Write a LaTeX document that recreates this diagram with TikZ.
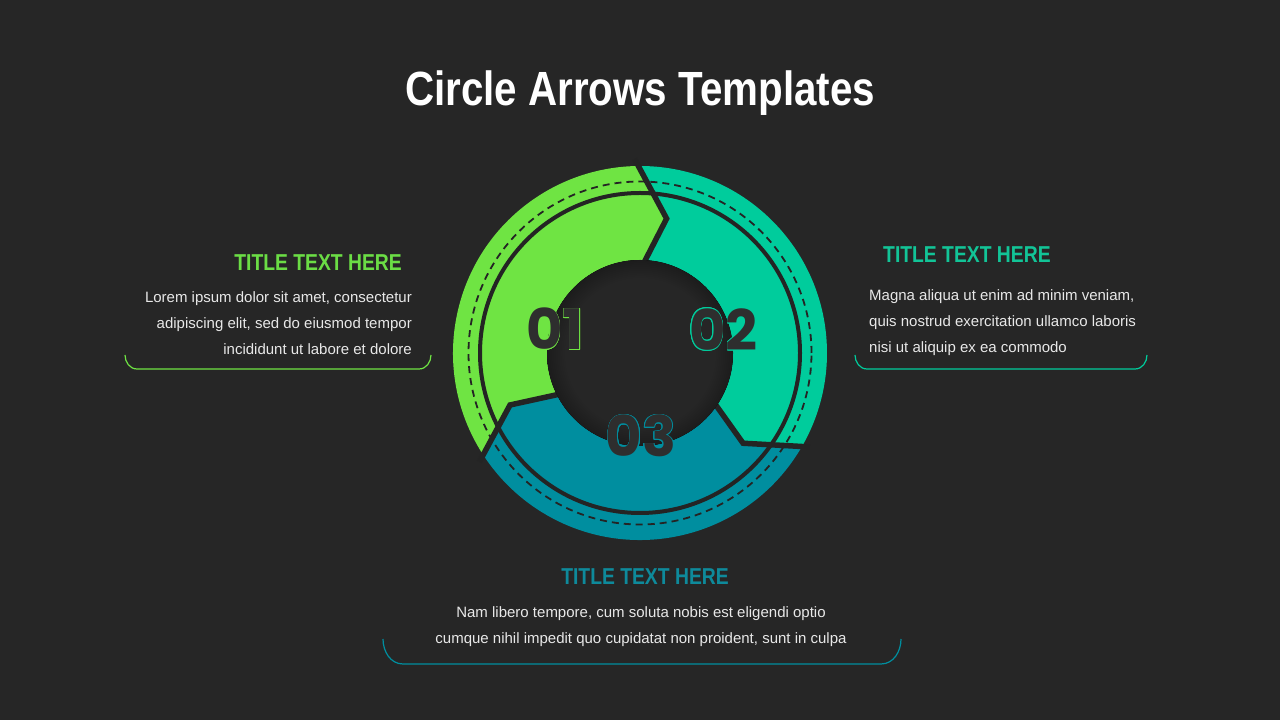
\documentclass[tikz,border=0pt]{standalone}
\usepackage{fontspec}
\setmainfont{Liberation Sans}
\newfontfamily\hfont{Liberation Sans}[FakeStretch=0.84]
\newfontfamily\numfont{Poppins}
\usetikzlibrary{calc}
\definecolor{bg}{HTML}{262626}
\definecolor{gapc}{HTML}{242424}
\definecolor{cgreen}{HTML}{6FE443}
\definecolor{cteal}{HTML}{00CC9C}
\definecolor{cblue}{HTML}{008E9F}
\definecolor{tgreen}{HTML}{6BDD45}
\definecolor{tteal}{HTML}{12C497}
\definecolor{tblue}{HTML}{0E8A9B}
\definecolor{bodyc}{HTML}{E8E8E8}
\definecolor{numdark}{HTML}{2E2E2E}
\definecolor{holec}{HTML}{262626}
\definecolor{holee}{HTML}{1C1C1C}
\pgfdeclareradialshading{holeshade}{\pgfpoint{0bp}{0bp}}{color(0bp)=(holec); color(20bp)=(holec); color(25bp)=(holee); color(50bp)=(holee)}
\newcommand\outnum[4]{%
  \foreach \a in {0,22.5,...,337.5}
    \node[numsty, text=#3, shift={(\a:0.7pt)}] at (#1) {#2};
  \node[numsty, text=numdark] (#4) at (#1) {#2};}
\begin{document}
\begin{tikzpicture}[x=1pt,y=1pt,
  numsty/.style={font=\numfont\bfseries\fontsize{56}{56}\selectfont, inner sep=0pt},
  htitle/.style={font=\hfont\bfseries\fontsize{23}{28}\selectfont, inner sep=0pt},
  bodytxt/.style={font=\fontsize{15}{18}\selectfont, text=bodyc, inner sep=0pt},
  gapline/.style={draw=gapc, line width=5.5pt, line join=miter},
  bracket/.style={line width=1.2pt}]
\fill[bg] (0,0) rectangle (1280,720);
\useasboundingbox (0,0) rectangle (1280,720);

% main title
\node[font=\hfont\bfseries\fontsize{48}{58}\selectfont, text=white, anchor=base, inner sep=0pt] (title) at (640,614) {Circle Arrows Templates};

% circle
\coordinate (C) at (640,367);
\begin{scope}[shift={(640,367)}]
  % green segment: B2 -> B0
  \fill[cgreen] (213:187pt) arc[start angle=213, end angle=90.5, radius=187pt]
     -- (78.8:137pt) -- (88.2:93pt) arc[start angle=88.2, end angle=207.5, radius=93pt]
     -- (201.8:140pt) -- cycle;
  % teal segment: B0 -> B1
  \fill[cteal] (90.5:187pt) arc[start angle=90.5, end angle=-30, radius=187pt]
     -- (-41.2:137pt) -- (-33.5:93pt) arc[start angle=-33.5, end angle=88.2, radius=93pt]
     -- (78.8:137pt) -- cycle;
  % blue segment: B1 -> B2
  \fill[cblue] (-30:187pt) arc[start angle=-30, end angle=-147, radius=187pt]
     -- (-158.2:140pt) -- (-152.5:93pt) arc[start angle=-152.5, end angle=-33.5, radius=93pt]
     -- (-41.2:137pt) -- cycle;
  % rings
  \draw[gapc, line width=4pt] (0,0) circle[radius=160pt];
  \draw[gapc, line width=1.8pt, dash pattern=on 7pt off 5pt] (0,0) circle[radius=171.5pt];
  % gap lines
  \draw[gapline] ($(90.5:187pt)!-8pt!(78.8:137pt)$) -- (78.8:137pt) -- (88.2:88pt);
  \draw[gapline] ($(-30:187pt)!-8pt!(-41.2:137pt)$) -- (-41.2:137pt) -- (-33.5:88pt);
  \draw[gapline] ($(213:187pt)!-8pt!(201.8:140pt)$) -- (201.8:140pt) -- (207.5:88pt);
  % hole
  \fill[shading=holeshade] (0,0) circle[radius=93pt];
\end{scope}

% numbers
\outnum{555,391}{01}{cgreen}{n1}
\outnum{723.5,390.5}{02}{cteal}{n2}
\outnum{641,284}{03}{cblue}{n3}

% left block
\node[htitle, text=tgreen, anchor=base east] (t1) at (402,449) {TITLE TEXT HERE};
\node[bodytxt, anchor=base east] (l1a) at (412,417) {Lorem ipsum dolor sit amet, consectetur};
\node[bodytxt, anchor=base east] (l1b) at (412,391) {adipiscing elit, sed do eiusmod tempor};
\node[bodytxt, anchor=base east] (l1c) at (412,365) {incididunt ut labore et dolore};
\coordinate (b1l) at (125,365);
\coordinate (b1r) at (431,365);
\draw[bracket, cgreen] (b1l) to[out=-90,in=180] (137,351) -- (419,351) to[out=0,in=-90] (b1r);

% right block
\node[htitle, text=tteal, anchor=base west] (t2) at (883,457) {TITLE TEXT HERE};
\node[bodytxt, anchor=base west] (l2a) at (869,419) {Magna aliqua ut enim ad minim veniam,};
\node[bodytxt, anchor=base west] (l2b) at (869,393) {quis nostrud exercitation ullamco laboris};
\node[bodytxt, anchor=base west] (l2c) at (869,367) {nisi ut aliquip ex ea commodo};
\coordinate (b2l) at (855,365);
\coordinate (b2r) at (1147,365);
\draw[bracket, cteal] (b2l) to[out=-90,in=180] (867,351) -- (1135,351) to[out=0,in=-90] (b2r);

% bottom block
\node[htitle, text=tblue, anchor=base] (t3) at (645,135) {TITLE TEXT HERE};
\node[bodytxt, anchor=base] (l3a) at (641,102) {Nam libero tempore, cum soluta nobis est eligendi optio};
\node[bodytxt, anchor=base] (l3b) at (641,76) {cumque nihil impedit quo cupidatat non proident, sunt in culpa};
\coordinate (b3l) at (383,81);
\coordinate (b3r) at (901,81);
\draw[bracket, cblue] (b3l) to[out=-90,in=180] (403,56) -- (881,56) to[out=0,in=-90] (b3r);
\end{tikzpicture}
\end{document}
